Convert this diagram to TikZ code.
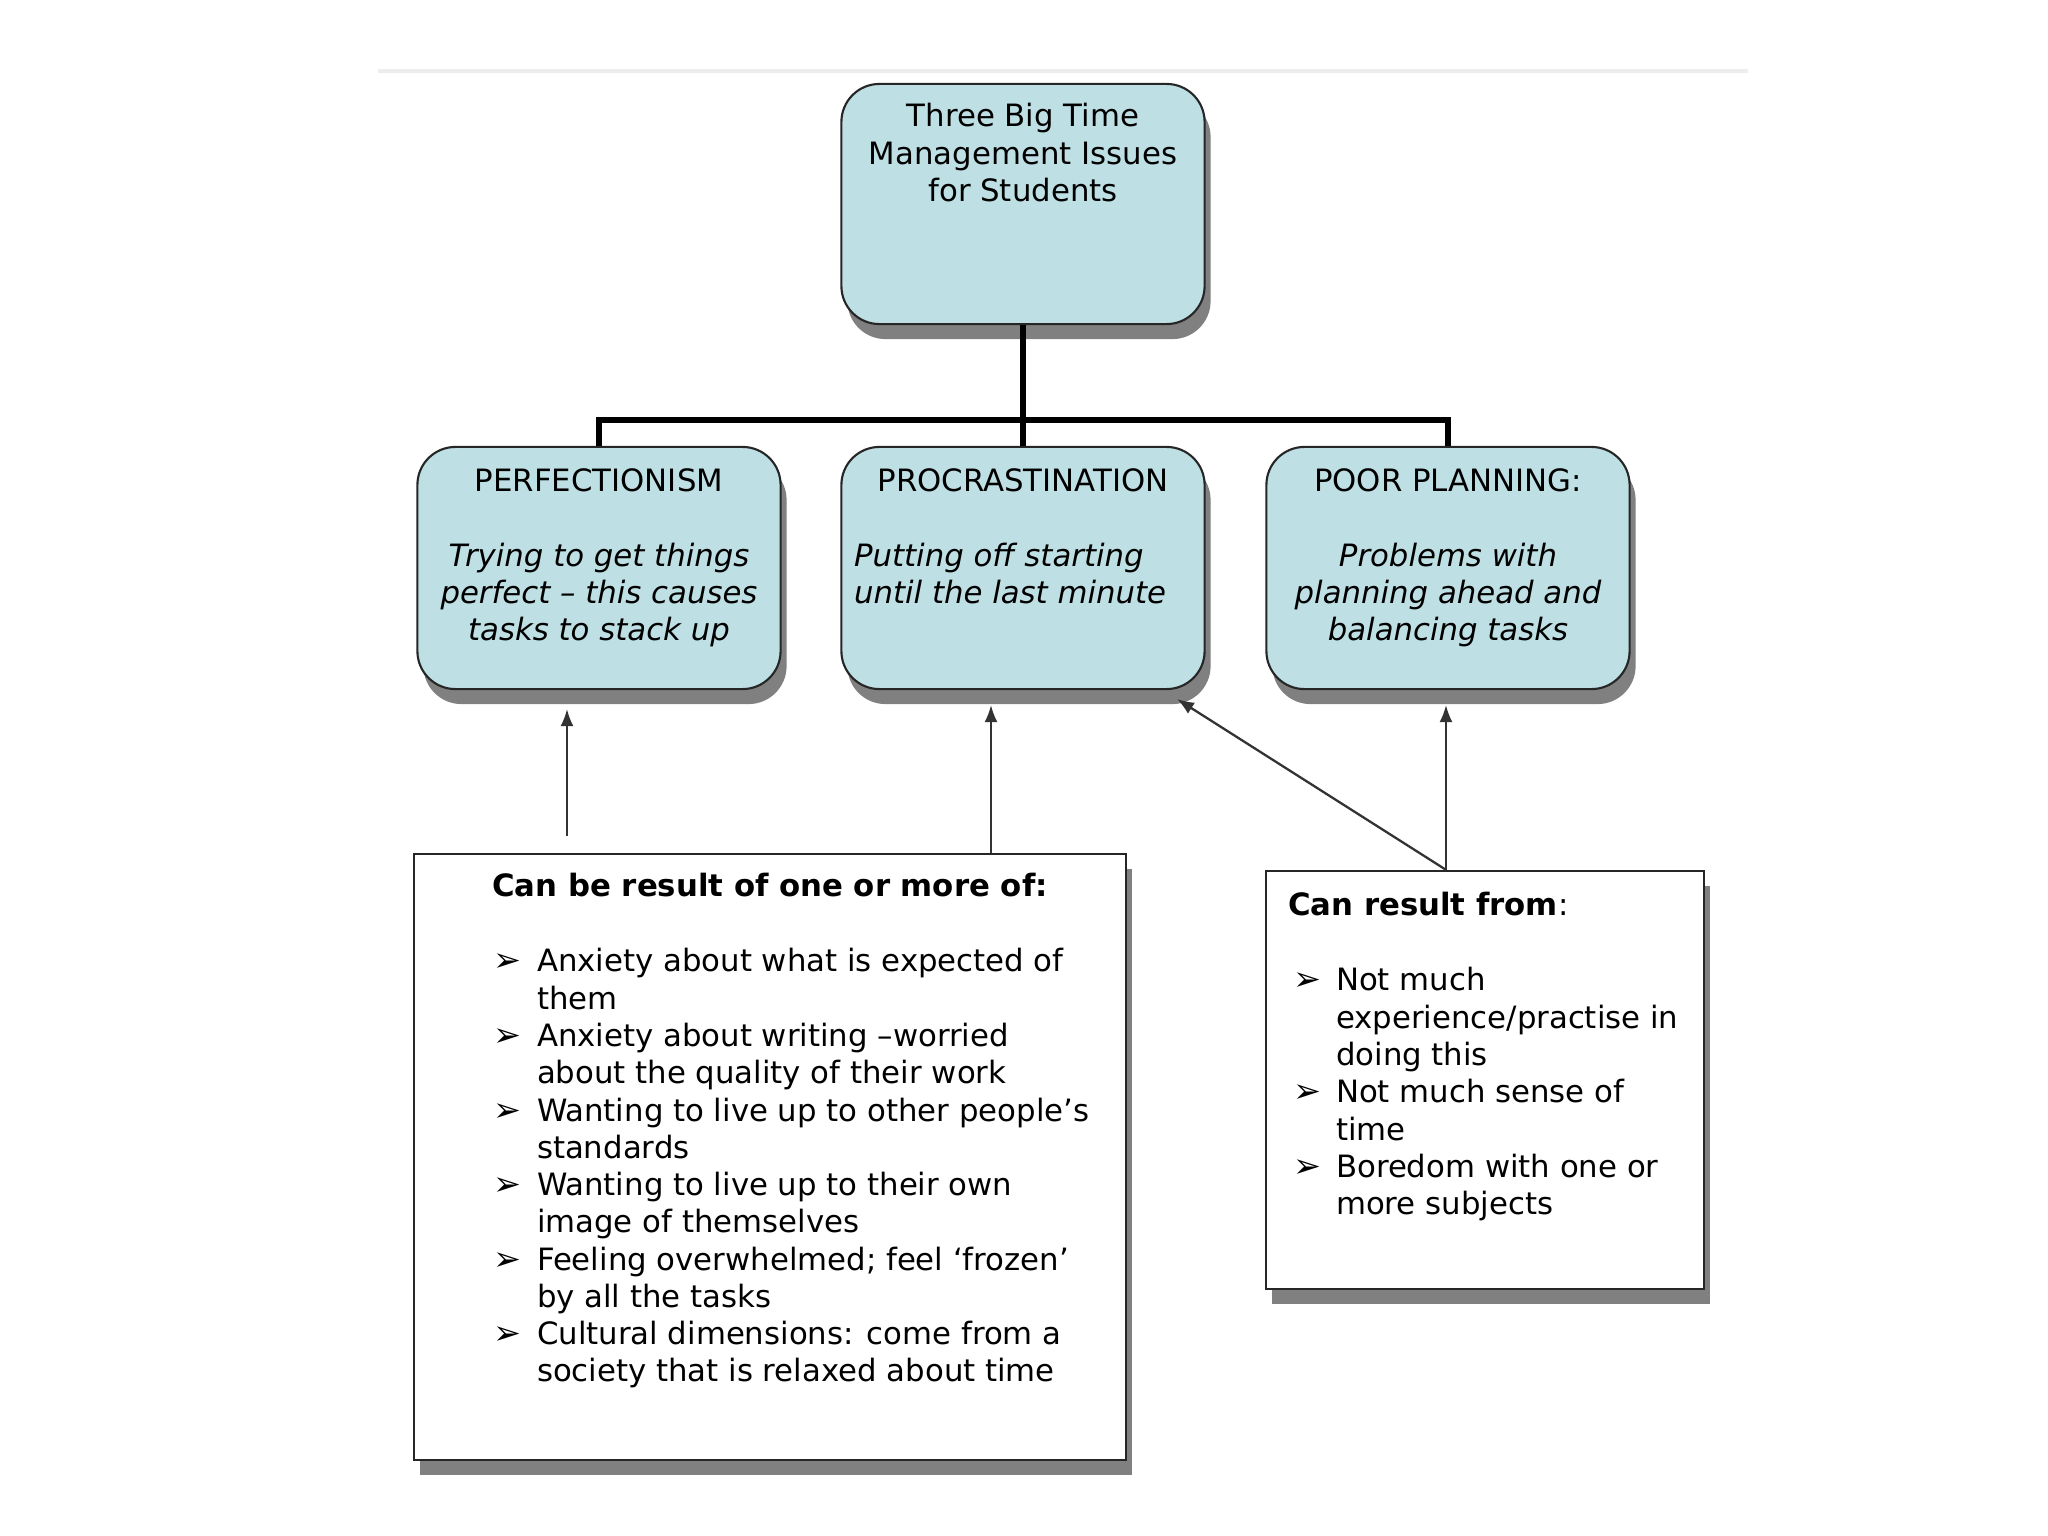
\documentclass[tikz,border=0pt]{standalone}
\usepackage{fontspec}
\setmainfont{DejaVu Sans}
\usepackage{xcolor}
\usepackage{tikz}
\usetikzlibrary{positioning}
\usetikzlibrary{shadows, arrows.meta}
\definecolor{boxblue}{RGB}{190,223,227}
\tikzset{
    issue/.style={draw=black!85, line width=0.6pt, rounded corners=0.38cm, fill=boxblue, minimum width=3.63cm, minimum height=2.42cm,
        drop shadow={shadow xshift=0.06cm, shadow yshift=-0.15cm, fill=black!50, opacity=1}},
    cause/.style={draw=black!85, line width=0.6pt, fill=white,
        drop shadow={shadow xshift=0.06cm, shadow yshift=-0.15cm, fill=black!50, opacity=1}},
    boxtitle/.style={inner sep=0pt, align=center, font=\fontsize{8.75}{10.6}\selectfont},
    boxbody/.style={inner sep=0pt, align=center, font=\fontsize{8.75}{10.6}\selectfont\itshape},
    itemlist/.style={inner sep=0pt, align=left, font=\fontsize{8.75}{10.6}\selectfont},
    trunk/.style={line width=1.6pt},
    arrow/.style={line width=0.65pt, draw=black!80, -{Latex[length=0.17cm, width=0.13cm]}},
    pagerule/.style={line width=1.4pt, draw=black!7}
}
\newcommand{\bul}{\makebox[0.38cm][l]{\hspace*{-0.05cm}\fontsize{9.5}{9.5}\selectfont ➢}}
\newcommand{\ind}{\hspace*{0.38cm}}

\begin{document}
\begin{tikzpicture}[x=0.01cm, y=-0.01cm]

\useasboundingbox (0,0) rectangle (2048,1536);
\draw[pagerule] (378,71) -- (1748,71);

% the issue boxes
\node [issue, minimum height=2.40cm]            (issues)        at (1023,204)  {};
\node [issue]                                   (perfect)       at (599,568)   {};
\node [issue]                                   (procrast)      at (1023,568)  {};
\node [issue]                                   (planning)      at (1448,568)  {};

\node [boxtitle, below=0.2cm of issues.north]   (issuestext)    {Three Big Time\\Management Issues\\for Students};
\node [boxtitle, below=0.22cm of perfect.north] (perfecttitle)  {PERFECTIONISM};
\node [boxbody, below=0.96cm of perfect.north]  (perfectbody)   {Trying to get things\\perfect – this causes\\tasks to stack up};
\node [boxtitle, below=0.22cm of procrast.north] (procrasttitle) {PROCRASTINATION};
\node [boxbody, align=left, below right=0.96cm and 0.13cm of procrast.north west] (procrastbody) {Putting off starting\\until the last minute};
\node [boxtitle, below=0.22cm of planning.north] (planningtitle) {POOR PLANNING:};
\node [boxbody, below=0.96cm of planning.north] (planningbody)  {Problems with\\planning ahead and\\balancing tasks};

% the cause boxes
\node [cause, minimum width=7.11cm, minimum height=6.06cm] (causes)  at (770,1157)  {};
\node [cause, minimum width=4.37cm, minimum height=4.18cm] (reasons) at (1485,1080) {};

\node [boxtitle, font=\fontsize{8.75}{10.6}\selectfont\bfseries, below=0.2cm of causes.north] (causeshead) {Can be result of one or more of:};
\node [itemlist, below right=0.95cm and 0.85cm of causes.north west] (causeslist) {%
    \bul Anxiety about what is expected of\\\ind them\\
    \bul Anxiety about writing –worried\\\ind about the quality of their work\\
    \bul Wanting to live up to other people’s\\\ind standards\\
    \bul Wanting to live up to their own\\\ind image of themselves\\
    \bul Feeling overwhelmed; feel ‘frozen’\\\ind by all the tasks\\
    \bul Cultural dimensions: come from a\\\ind society that is relaxed about time};

\node [boxtitle, below right=0.22cm and 0.22cm of reasons.north west] (reasonshead) {\textbf{Can result from}:};
\node [itemlist, below right=0.97cm and 0.32cm of reasons.north west] (reasonslist) {%
    \bul Not much\\\ind experience/practise in\\\ind doing this\\
    \bul Not much sense of\\\ind time\\
    \bul Boredom with one or\\\ind more subjects};

% connectors
\coordinate (fork) at (1023,420);
\draw [trunk] (issues.south) -- (procrast.north);
\draw [trunk] (perfect.north) |- (fork) -| (planning.north);

\coordinate (perfectfoot)  at (567,836);
\coordinate (perfecttip)   at (567,709);
\coordinate (procrasttip)  at (991,705);
\coordinate (latetip)      at (1177,699);
\coordinate (planningtip)  at (1446,705);

\draw [arrow] (perfectfoot) -- (perfecttip);
\draw [arrow] (causes.north -| procrasttip) -- (procrasttip);
\draw [arrow] (reasons.north -| planningtip) -- (planningtip);
\draw [arrow] (reasons.north -| planningtip) -- (latetip);

\end{tikzpicture}
\end{document}
